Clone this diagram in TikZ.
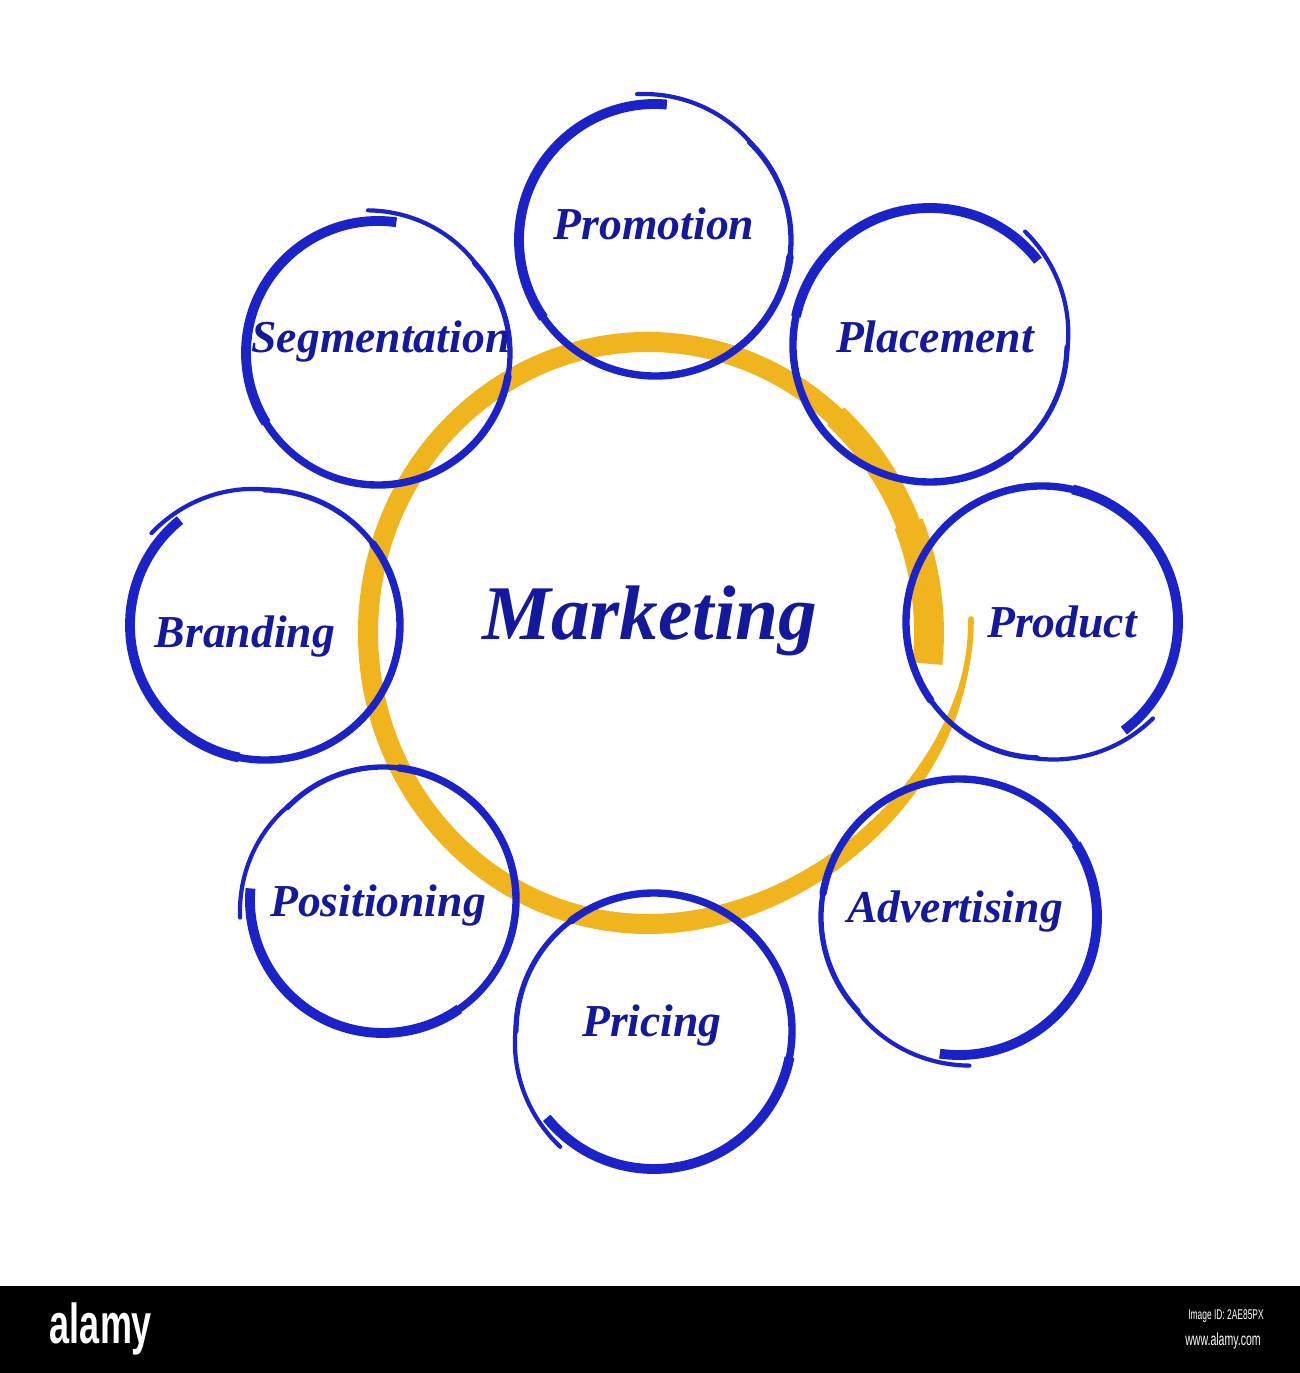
\documentclass[tikz,border=0pt]{standalone}
\usepackage{fontspec}
\setmainfont{Liberation Serif}
\newfontfamily\logofont{Liberation Sans}
\definecolor{ringblue}{HTML}{1A22C8}
\definecolor{txtblue}{HTML}{14189A}
\definecolor{gold}{HTML}{EFB41E}
\tikzset{
  lbl/.style={font=\fontsize{13}{15}\selectfont\bfseries\itshape, text=txtblue, anchor=base, inner sep=0pt},
  hublbl/.style={lbl, font=\fontsize{22}{26}\selectfont\bfseries\itshape},
  brusha/.style={draw=ringblue, line width=2.8pt},
  brushb/.style={draw=ringblue, line width=2.1pt, line cap=round},
  brushc/.style={draw=ringblue, line width=1.5pt, line cap=round},
  brushtail/.style={draw=ringblue, line width=1.2pt, line cap=round},
  goldring/.style={draw=gold, line width=5.7pt},
  logo/.style={text=white, anchor=base, inner sep=0pt}
}
\begin{document}
\begin{tikzpicture}
  \useasboundingbox (0,0) rectangle (13,13.73);
  \fill[white] (0,0) rectangle (13,13.73);
  % hand drawn ring: centre, radius, angle where the brush starts
  \def\brushring#1#2#3{%
    \begin{scope}[shift={(#1)}]
      \draw[brusha] (#3:#2) arc[start angle=#3, delta angle=130, radius=#2];
      \draw[brushb] ({#3+128}:#2) arc[start angle=#3+128, delta angle=140, radius=#2];
      \draw[brushc] ({#3+266}:#2) arc[start angle=#3+266, delta angle=55, radius=#2];
      \draw[brushtail] plot[domain=#3+318:#3+372, samples=30, variable=\t] ({\t}:{#2+0.11*(\t-#3-318)/54});
    \end{scope}}
  % the big gold ring
  \coordinate (hub) at (6.48,7.40);
  \draw[goldring] ([shift={(-6:2.80 and 2.91)}]hub) arc[start angle=-6, end angle=270, x radius=2.80, y radius=2.91];
  \draw[draw=gold, line width=8.5pt] ([shift={(-6:2.81 and 2.92)}]hub) arc[start angle=-6, end angle=22, x radius=2.81, y radius=2.92];
  \draw[draw=gold, line width=7pt] ([shift={(18:2.805 and 2.915)}]hub) arc[start angle=18, end angle=48, x radius=2.805, y radius=2.915];
  \fill[gold] (6.48,4.39) .. controls (8.15,4.39) and (9.80,5.9) .. (9.71,7.54)
     .. controls (9.63,5.95) and (8.05,4.59) .. (6.48,4.59) -- cycle;
  \draw[gold, line width=1.6pt, line cap=round] (6.48,4.49) .. controls (8.1,4.49) and (9.71,5.9) .. (9.71,7.54);
  % the eight blue rings
  \foreach \cx/\cy/\r/\s/\tx/\ty/\txt [count=\i] in {
      6.55/11.33/1.36/85/6.54/11.33/Promotion,
      9.30/10.28/1.37/38/9.35/10.20/Placement,
      10.42/7.51/1.36/307/10.62/7.35/Product,
      9.59/4.56/1.38/262/9.55/4.50/Advertising,
      6.54/3.42/1.38/219/6.52/3.36/Pricing,
      3.83/4.73/1.33/175/3.78/4.56/Positioning,
      2.65/7.48/1.35/129/2.45/7.25/Branding,
      3.78/10.20/1.32/82/3.81/10.20/Segmentation} {
    \coordinate (ring\i) at (\cx,\cy);
    \brushring{ring\i}{\r}{\s}
    \node[lbl] (lbl\i) at (\tx,\ty) {\txt};
  }
  \node[hublbl] (hublabel) at (6.50,7.33) {Marketing};
  % stock photo strip
  \fill[black] (0,0) rectangle (13,0.87);
  \node[logo, font=\logofont\bfseries\fontsize{16}{16}\selectfont] (alamylogo) at (1.01,0.30) {\scalebox{0.64}[1]{alamy}};
  \node[logo, font=\logofont\fontsize{4}{4}\selectfont] (imgid) at (12.26,0.54) {\scalebox{0.6}[1]{Image ID: 2AE85PX}};
  \node[logo, font=\logofont\fontsize{5}{5}\selectfont] (imgurl) at (12.23,0.27) {\scalebox{0.6}[1]{www.alamy.com}};
\end{tikzpicture}
\end{document}
